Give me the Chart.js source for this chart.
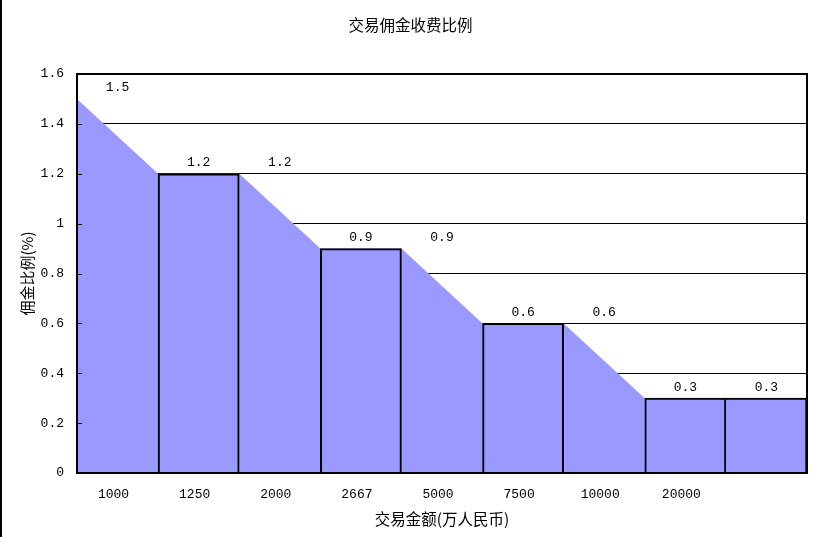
<!DOCTYPE html>
<html>
<head>
<meta charset="utf-8">
<script src="https://cdn.jsdelivr.net/npm/chart.js@4"></script>
<style>
    html, body { margin: 0; padding: 0; background: #fff; }
    #wrap { width: 821px; height: 537px; }
</style>
</head>
<body>
<div id="wrap"><canvas id="commissionChart"></canvas></div>
<script>
// Datos del gráfico
const chartTitle = '交易佣金收费比例';
const categories = ['1000', '1250', '2000', '2667', '5000', '7500', '10000', '20000', ''];
const labelValues = [1.5, 1.2, 1.2, 0.9, 0.9, 0.6, 0.6, 0.3, 0.3];
const barValues = [null, 1.2, null, 0.9, null, 0.6, null, 0.3, 0.3];
const edgeValues = [1.5, 1.2, 1.2, 0.9, 0.9, 0.6, 0.6, 0.3, 0.3, 0.3];
const yTickValues = [0, 0.2, 0.4, 0.6, 0.8, 1, 1.2, 1.4, 1.6];

const FILL = '#9999FF';
const NUM_FONT = '"Liberation Mono", "DejaVu Sans Mono", monospace';
const CJK_FONT = '"Noto Sans CJK SC", "Noto Sans", sans-serif';

// centro de cada categoría en el eje lineal
const center = i => i + 0.5;

// Título, marco, marcas del eje y etiquetas de datos
const extrasPlugin = {
    id: 'extras',
    beforeDraw(chart) {
        const ctx = chart.ctx;
        ctx.save();
        ctx.fillStyle = '#000';
        ctx.fillRect(0, 0, 2, chart.height);
        ctx.font = '15.5px ' + CJK_FONT;
        ctx.textAlign = 'center';
        ctx.textBaseline = 'middle';
        ctx.fillText(chartTitle, chart.width / 2, 25);
        ctx.restore();
    },
    afterDatasetsDraw(chart) {
        const ctx = chart.ctx;
        const area = chart.chartArea;
        const x = chart.scales.x;
        const y = chart.scales.y;
        ctx.save();

        // marcas cortas hacia dentro
        ctx.strokeStyle = '#000';
        ctx.lineWidth = 1;
        yTickValues.forEach(v => {
            const py = Math.round(y.getPixelForValue(v)) + 0.5;
            ctx.beginPath();
            ctx.moveTo(area.left, py);
            ctx.lineTo(area.left + 5, py);
            ctx.stroke();
        });

        // marco del área de trazado
        ctx.lineWidth = 2;
        ctx.strokeRect(area.left, area.top, area.right - area.left, area.bottom - area.top);

        // etiquetas de valores
        ctx.fillStyle = '#000';
        ctx.font = '13px ' + NUM_FONT;
        ctx.textAlign = 'center';
        ctx.textBaseline = 'middle';
        labelValues.forEach((v, i) => {
            ctx.fillText(v.toFixed(1), x.getPixelForValue(center(i)), y.getPixelForValue(v) - 11);
        });
        ctx.restore();
    }
};

const ctx = document.getElementById('commissionChart').getContext('2d');
new Chart(ctx, {
    type: 'line',
    data: {
        datasets: [
            {
                type: 'line',
                data: edgeValues.map((v, i) => ({ x: i, y: v })),
                fill: 'origin',
                backgroundColor: FILL,
                borderWidth: 0,
                pointRadius: 0,
                tension: 0,
                order: 2
            },
            {
                type: 'bar',
                data: barValues.map((v, i) => ({ x: center(i), y: v })),
                backgroundColor: FILL,
                borderColor: '#000',
                borderWidth: function(c) {
                    const prev = barValues[c.dataIndex - 1];
                    return { left: prev == null ? 2 : 0, right: 2, top: 2, bottom: 0 };
                },
                borderSkipped: false,
                barPercentage: 1,
                categoryPercentage: 1,
                order: 1
            }
        ]
    },
    options: {
        responsive: true,
        maintainAspectRatio: false,
        animation: false,
        events: [],
        layout: { padding: { left: 0, right: 14, top: 74, bottom: 0 } },
        plugins: {
            legend: { display: false },
            tooltip: { enabled: false },
            title: { display: false }
        },
        scales: {
            x: {
                type: 'linear',
                min: 0,
                max: categories.length,
                offset: false,
                afterBuildTicks(axis) {
                    axis.ticks = categories.map((c, i) => ({ value: center(i) }));
                },
                grid: { display: false, drawTicks: false },
                border: { display: false },
                ticks: {
                    color: '#000',
                    font: { family: NUM_FONT, size: 13 },
                    padding: 14,
                    labelOffset: -4,
                    maxRotation: 0,
                    autoSkip: false,
                    callback: (v, i) => categories[i]
                },
                title: {
                    display: true,
                    text: '交易金额(万人民币)',
                    color: '#000',
                    font: { family: CJK_FONT, size: 15.5, lineHeight: 1.2 },
                    padding: { top: 0, bottom: 9 }
                },
                afterFit(scale) { scale.height = 64; }
            },
            y: {
                min: 0,
                max: 1.6,
                afterBuildTicks(axis) {
                    axis.ticks = yTickValues.map(v => ({ value: v }));
                },
                grid: { color: '#000', lineWidth: 1, drawTicks: false },
                border: { display: false },
                ticks: {
                    color: '#000',
                    font: { family: NUM_FONT, size: 13 },
                    padding: 13,
                    callback: v => String(Number(v.toFixed(1)))
                },
                title: {
                    display: true,
                    text: '佣金比例(%)',
                    color: '#000',
                    font: { family: CJK_FONT, size: 15, lineHeight: 1.2 },
                    padding: { top: 18, bottom: 0 }
                },
                afterFit(scale) { scale.width = 77; }
            }
        }
    },
    plugins: [extrasPlugin]
});
</script>
</body>
</html>
